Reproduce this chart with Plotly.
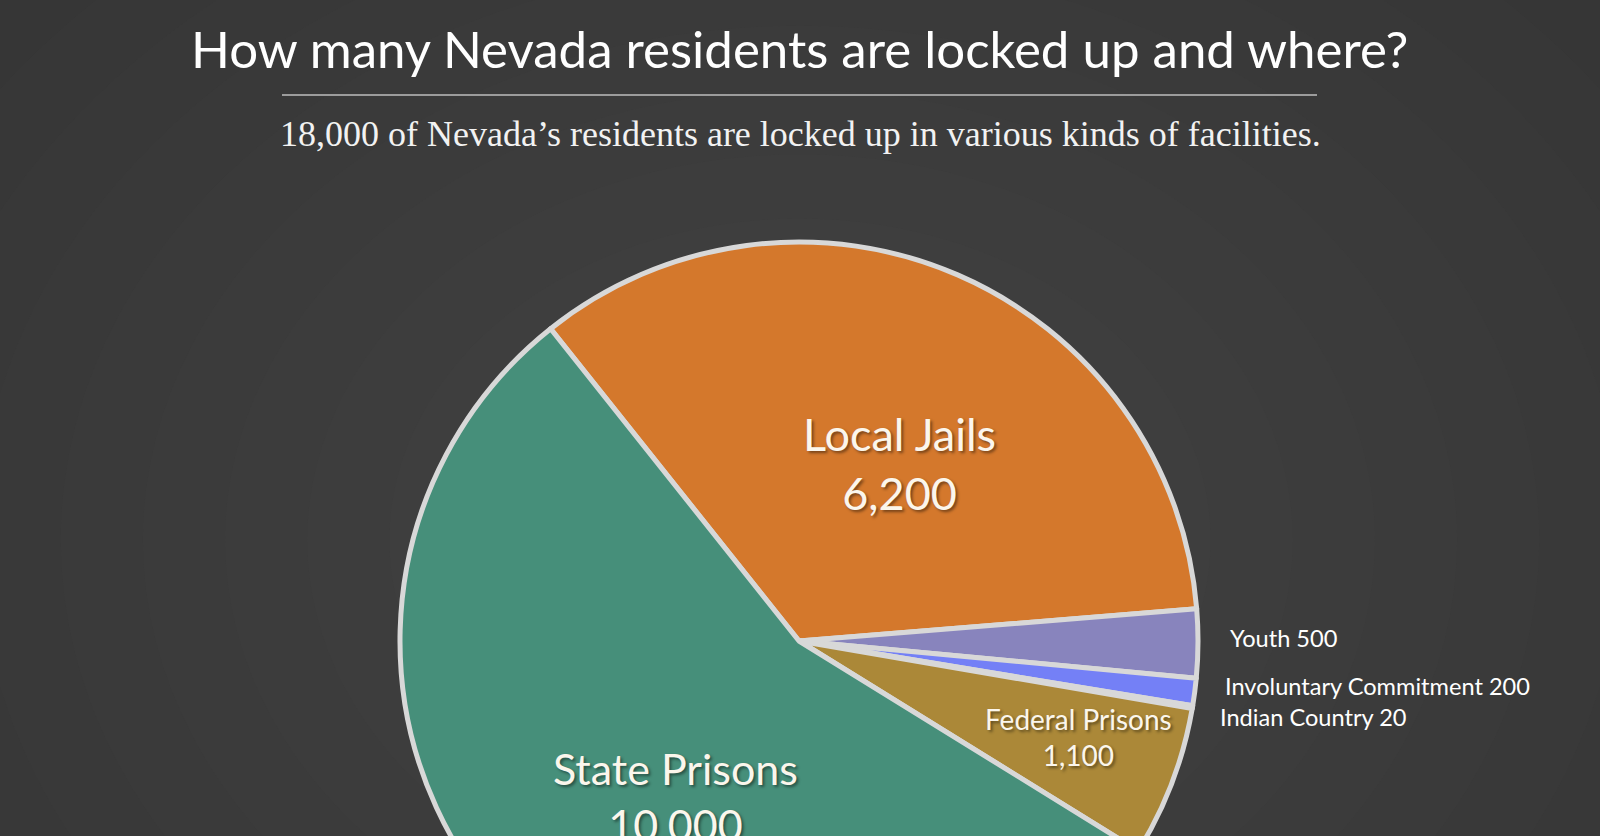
import plotly.graph_objects as go

# ---- data ----
labels = ["Local Jails", "Youth", "Involuntary Commitment", "Indian Country",
          "Federal Prisons", "State Prisons"]
values = [6200, 500, 200, 20, 1100, 10000]
colors = ["#d4782c", "#8884bd", "#7480f6", "#8a8a8a", "#ab8838", "#468f7a"]

title_text = "How many Nevada residents are locked up and where?"
subtitle_text = "18,000 of Nevada\u2019s residents are locked up in various kinds of facilities."

W, H = 1600, 1100

def px(x, y):
    return x / W, 1 - y / H

cx0, cy0, r0 = 799, 641, 399
fig = go.Figure()
fig.add_trace(go.Pie(
    labels=labels, values=values, sort=False, direction="clockwise",
    rotation=-38.5, textinfo="none", hoverinfo="label+value",
    marker=dict(colors=colors, line=dict(color="#d8d8d8", width=5)),
    domain=dict(x=[(cx0 - r0) / W, (cx0 + r0) / W],
                y=[(H - (cy0 + r0)) / H, (H - (cy0 - r0)) / H]),
    showlegend=False,
))

# background radial gradient approximated by stacked translucent ellipses
shapes = []
n = 14
for i in range(n):
    f = 1 - i / n
    rx, ry = 1150 * f, 900 * f
    cx, cy = 800, 540
    shapes.append(dict(type="circle", xref="paper", yref="paper", layer="below",
                       x0=(cx - rx) / W, x1=(cx + rx) / W,
                       y0=1 - (cy + ry) / H, y1=1 - (cy - ry) / H,
                       fillcolor="rgba(90,90,90,0.06)", line=dict(width=0)))
# rule under the title
shapes.append(dict(type="line", xref="paper", yref="paper",
                   x0=282 / W, x1=1317 / W, y0=1 - 95 / H, y1=1 - 95 / H,
                   line=dict(color="#9c9c9c", width=2)))

shadow = "2px 2px 3px rgba(0,0,0,0.45)"
anns = []
x, y = px(799, 48)
anns.append(dict(text=title_text, x=x, y=y, xref="paper", yref="paper",
                 showarrow=False, xanchor="center", yanchor="middle",
                 font=dict(family="Lato", size=51, color="#ffffff")))
x, y = px(800, 134)
anns.append(dict(text=subtitle_text, x=x, y=y, xref="paper", yref="paper",
                 showarrow=False, xanchor="center", yanchor="middle",
                 font=dict(family="Liberation Serif", size=36, color="#f2f2f2")))

inside = {0: (899, 463, 45), 5: (675, 797, 43), 4: (1078, 737, 28)}
for i, (cx, cy, fs) in inside.items():
    x, y = px(cx, cy)
    anns.append(dict(text=f"{labels[i]}<br>{values[i]:,}", x=x, y=y,
                     xref="paper", yref="paper", showarrow=False,
                     xanchor="center", yanchor="middle", align="center",
                     font=dict(family="Lato", size=fs, color="#fbf6ec", shadow=shadow)))

outside = {1: (1228, 638), 2: (1223, 686), 3: (1218, 717)}
for i, (cx, cy) in outside.items():
    x, y = px(cx, cy)
    anns.append(dict(text=f"{labels[i]} {values[i]:,}", x=x, y=y,
                     xref="paper", yref="paper", showarrow=False,
                     xanchor="left", yanchor="middle",
                     font=dict(family="Lato", size=23.6, color="#ffffff")))

fig.update_layout(
    width=W, height=H, autosize=False,
    margin=dict(l=0, r=0, t=0, b=0),
    paper_bgcolor="#333333", plot_bgcolor="#333333",
    shapes=shapes, annotations=anns,
)

fig.write_html("out.html",
               post_script="document.documentElement.style.overflow='hidden';"
                           "document.body.style.overflow='hidden';"
                           "document.body.style.margin='0';")
